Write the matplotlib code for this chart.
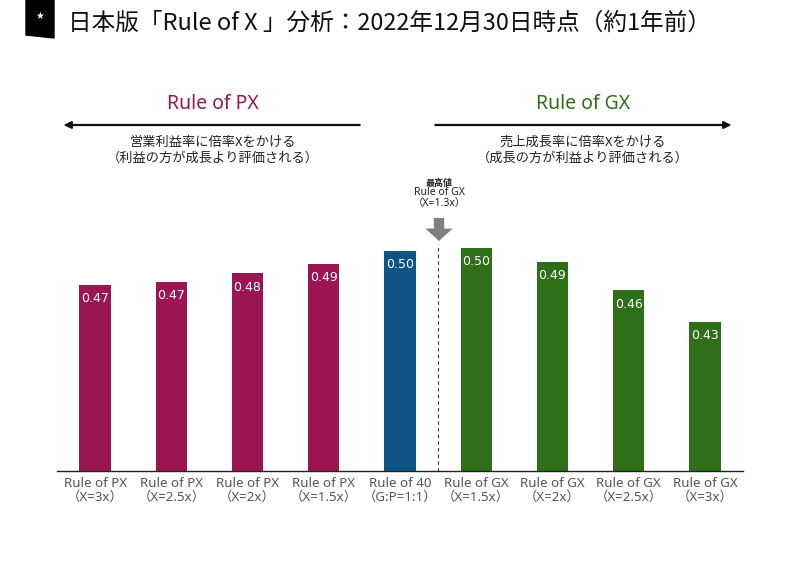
import matplotlib
matplotlib.use("Agg")
import matplotlib.pyplot as plt
from matplotlib.patches import Polygon, FancyArrow

plt.rcParams['font.family'] = ['Noto Sans CJK JP', 'DejaVu Sans']
LAT = ['Noto Sans', 'Noto Sans CJK JP']

# data
labels = ["Rule of PX\n（X=3x）", "Rule of PX\n（X=2.5x）", "Rule of PX\n（X=2x）",
          "Rule of PX\n（X=1.5x）", "Rule of 40\n（G:P=1:1）", "Rule of GX\n（X=1.5x）",
          "Rule of GX\n（X=2x）", "Rule of GX\n（X=2.5x）", "Rule of GX\n（X=3x）"]
values = [0.466, 0.469, 0.477, 0.486, 0.498, 0.501, 0.488, 0.461, 0.431]
PX = "#9b1553"
BLUE = "#0f5485"
GREEN = "#2f6f1a"
colors = [PX] * 4 + [BLUE] + [GREEN] * 4

W, H = 800, 565
fig = plt.figure(figsize=(8, 5.65), dpi=100)

def fx(px):
    return px / W

def fy(py):
    return 1 - py / H

ax = fig.add_axes([fx(57), fy(471), fx(743) - fx(57), fy(122) - fy(471)])
x = list(range(len(values)))
bars = ax.bar(x, values, width=0.41, color=colors, bottom=0)
ax.set_xlim(-0.5, 8.5)
ax.set_ylim(0.29, 0.62)
for b, v in zip(bars, values):
    ax.annotate(f"{v:.2f}", (b.get_x() + b.get_width() / 2, v), xytext=(0, -10),
                textcoords="offset points", ha="center", va="center",
                color="white", fontsize=9, family=['DejaVu Sans'])

ax.set_xticks(x)
ax.set_xticklabels(labels, fontsize=9.6, color="#555555", linespacing=1.15, family=LAT)
ax.tick_params(axis="x", length=0, pad=4)
ax.set_yticks([])
for s in ["top", "right", "left"]:
    ax.spines[s].set_visible(False)
ax.spines["bottom"].set_color("#222222")
ax.spines["bottom"].set_linewidth(1.0)

# dashed divider between Rule of 40 and GX
ax.plot([4.5, 4.5], [0.29, 0.505], ls=(0, (3, 3)), color="#333333", lw=0.8)

# title badge
badge = Polygon([[fx(26), fy(0)], [fx(54), fy(0)], [fx(54), fy(38)], [fx(26), fy(35)]],
                closed=True, transform=fig.transFigure, color="black")
fig.patches.append(badge)
fig.text(fx(40), fy(16), "★", color="white", fontsize=7, ha="center", va="center",
         family=['DejaVu Sans'])
fig.text(fx(68), fy(23), "日本版「Rule of X 」分析：2022年12月30日時点（約1年前）",
         fontsize=17, ha="left", va="center", color="#111111")

# group headers
fig.text(fx(213), fy(104), "Rule of PX", color=PX, fontsize=14, ha="center", va="center",
         family=LAT)
fig.text(fx(583), fy(104), "Rule of GX", color=GREEN, fontsize=14, ha="center", va="center",
         family=LAT)
fig.patches.append(FancyArrow(fx(360), fy(125), fx(65) - fx(360), 0, width=0.0015,
                              head_width=0.012, head_length=0.009, length_includes_head=True,
                              transform=fig.transFigure, color="#111111"))
fig.patches.append(FancyArrow(fx(435), fy(125), fx(730) - fx(435), 0, width=0.0015,
                              head_width=0.012, head_length=0.009, length_includes_head=True,
                              transform=fig.transFigure, color="#111111"))
fig.text(fx(213), fy(150), "営業利益率に倍率Xをかける\n（利益の方が成長より評価される）",
         fontsize=9.5, ha="center", va="center", color="#222222", linespacing=1.25)
fig.text(fx(583), fy(150), "売上成長率に倍率Xをかける\n（成長の方が利益より評価される）",
         fontsize=9.5, ha="center", va="center", color="#222222", linespacing=1.25)

# highest value note
fig.text(fx(439), fy(183), "最高値", fontsize=6.5, weight="bold", ha="center", va="center",
         color="#222222")
fig.text(fx(439), fy(198), "Rule of GX\n（X=1.3x）", fontsize=7.5, ha="center", va="center",
         color="#222222", linespacing=1.05, family=LAT)
fig.patches.append(FancyArrow(fx(439), fy(218), 0, fy(241) - fy(218), width=0.013,
                              head_width=0.034, head_length=0.022, length_includes_head=True,
                              transform=fig.transFigure, color="#808080", lw=0))

fig.savefig("out.png", dpi=100)
